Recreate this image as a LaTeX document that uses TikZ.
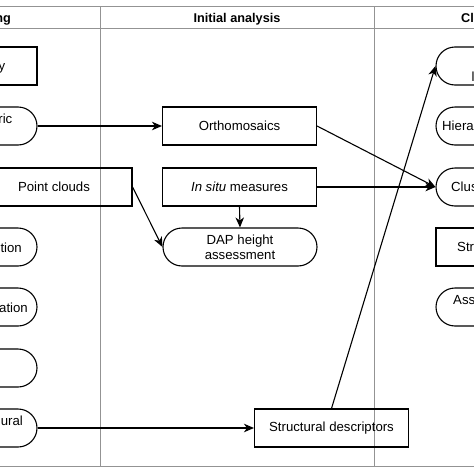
\documentclass[tikz,border=0pt]{standalone}
\usepackage{fontspec}
\setmainfont{Liberation Sans}
\usetikzlibrary{shapes.misc,arrows.meta}

\tikzset{
  lane/.style={draw=gray!85, line width=0.9pt},
  box/.style={draw, line width=1.1pt, minimum width=154pt, minimum height=38pt, inner sep=0pt, align=center},
  pill/.style={box, rounded rectangle},
  cutbox/.style={box, minimum width=120pt},
  cutpill/.style={pill, minimum width=120pt},
  txt/.style={inner sep=0pt},
  head/.style={inner sep=0pt, font=\bfseries\fontsize{12.7}{15}\selectfont},
  flow/.style={-{Stealth[length=10pt,width=8.5pt,inset=3pt]}, line width=1.1pt},
}

\begin{document}
\begin{tikzpicture}[x=1pt,y=-1pt,font=\fontsize{13.2}{15}\selectfont]
				%\draw [help lines] (0,0) grid[step=50] (474,474);
				\useasboundingbox (0,0) rectangle (474,474);
				% lanes
				\draw[lane] (-174,6) rectangle (100,466);
				\draw[lane] (100,6) rectangle (374,466);
				\draw[lane] (374,6) rectangle (648,466);
				\draw[lane] (-174,28) -- (648,28);
				\node[head, anchor=base east] (hpre) at (11,22) {ng};
				\node[head, anchor=base] (hinit) at (237,22) {Initial analysis};
				\node[head, anchor=base west] (hclu) at (461,22) {Cl};
				% left lane
				\node[cutbox] (survey) at (-23,66) {};
				\node[cutpill] (photo) at (-23,126) {};
				\node[box, minimum width=156pt] (pc) at (54,187) {Point clouds};
				\node[cutpill] (detect) at (-23,247) {};
				\node[cutpill] (classif) at (-23,307) {};
				\node[cutpill] (other) at (-23,368) {};
				\node[cutpill] (structL) at (-23,428) {};
				\node[txt, anchor=base east] (tsurvey) at (5.5,70.5) {y};
				\node[txt, anchor=base east] (tphoto) at (12.5,123.5) {ric};
				\node[txt, anchor=base east] (tdetect) at (22,252) {tion};
				\node[txt, anchor=base east] (tclassif) at (28,312) {ation};
				\node[txt, anchor=base east] (tstructL) at (23,425.5) {ural};
				% middle lane
				\node[box] (ortho) at (239.5,126) {Orthomosaics};
				\node[box] (insitu) at (239.5,187) {\textit{In situ} measures};
				\node[pill] (dap) at (240,247) {DAP height\\assessment};
				\node[box] (descr) at (331.5,428) {Structural descriptors};
				% right lane
				\node[cutpill] (r1) at (496,66) {};
				\node[cutpill] (hier) at (496,126) {};
				\node[cutpill] (clus) at (496,187) {};
				\node[cutbox] (strc) at (496,247) {};
				\node[cutpill] (assess) at (496,307) {};
				\node[txt, anchor=base west] (tr1) at (471.5,81) {l};
				\node[txt, anchor=base west] (thier) at (442,130.75) {Hiera};
				\node[txt, anchor=base west] (tclus) at (451,191.75) {Clus};
				\node[txt, anchor=base west] (tstrc) at (457,251.75) {Str};
				\node[txt, anchor=base west] (tassess) at (453,304.25) {Ass};
				% flows
				\draw[flow] (photo.east) -- (ortho.west);
				\draw[flow] (pc.east) -- (dap.west);
				\draw[flow] (insitu.south) -- (dap.north);
				\draw[flow] (ortho.east) -- (clus.west);
				\draw[flow] (insitu.east) -- (clus.west);
				\draw[flow] (structL.east) -- (descr.west);
				\draw[flow] (descr.north) -- (r1.west);
				\end{tikzpicture}
\end{document}
